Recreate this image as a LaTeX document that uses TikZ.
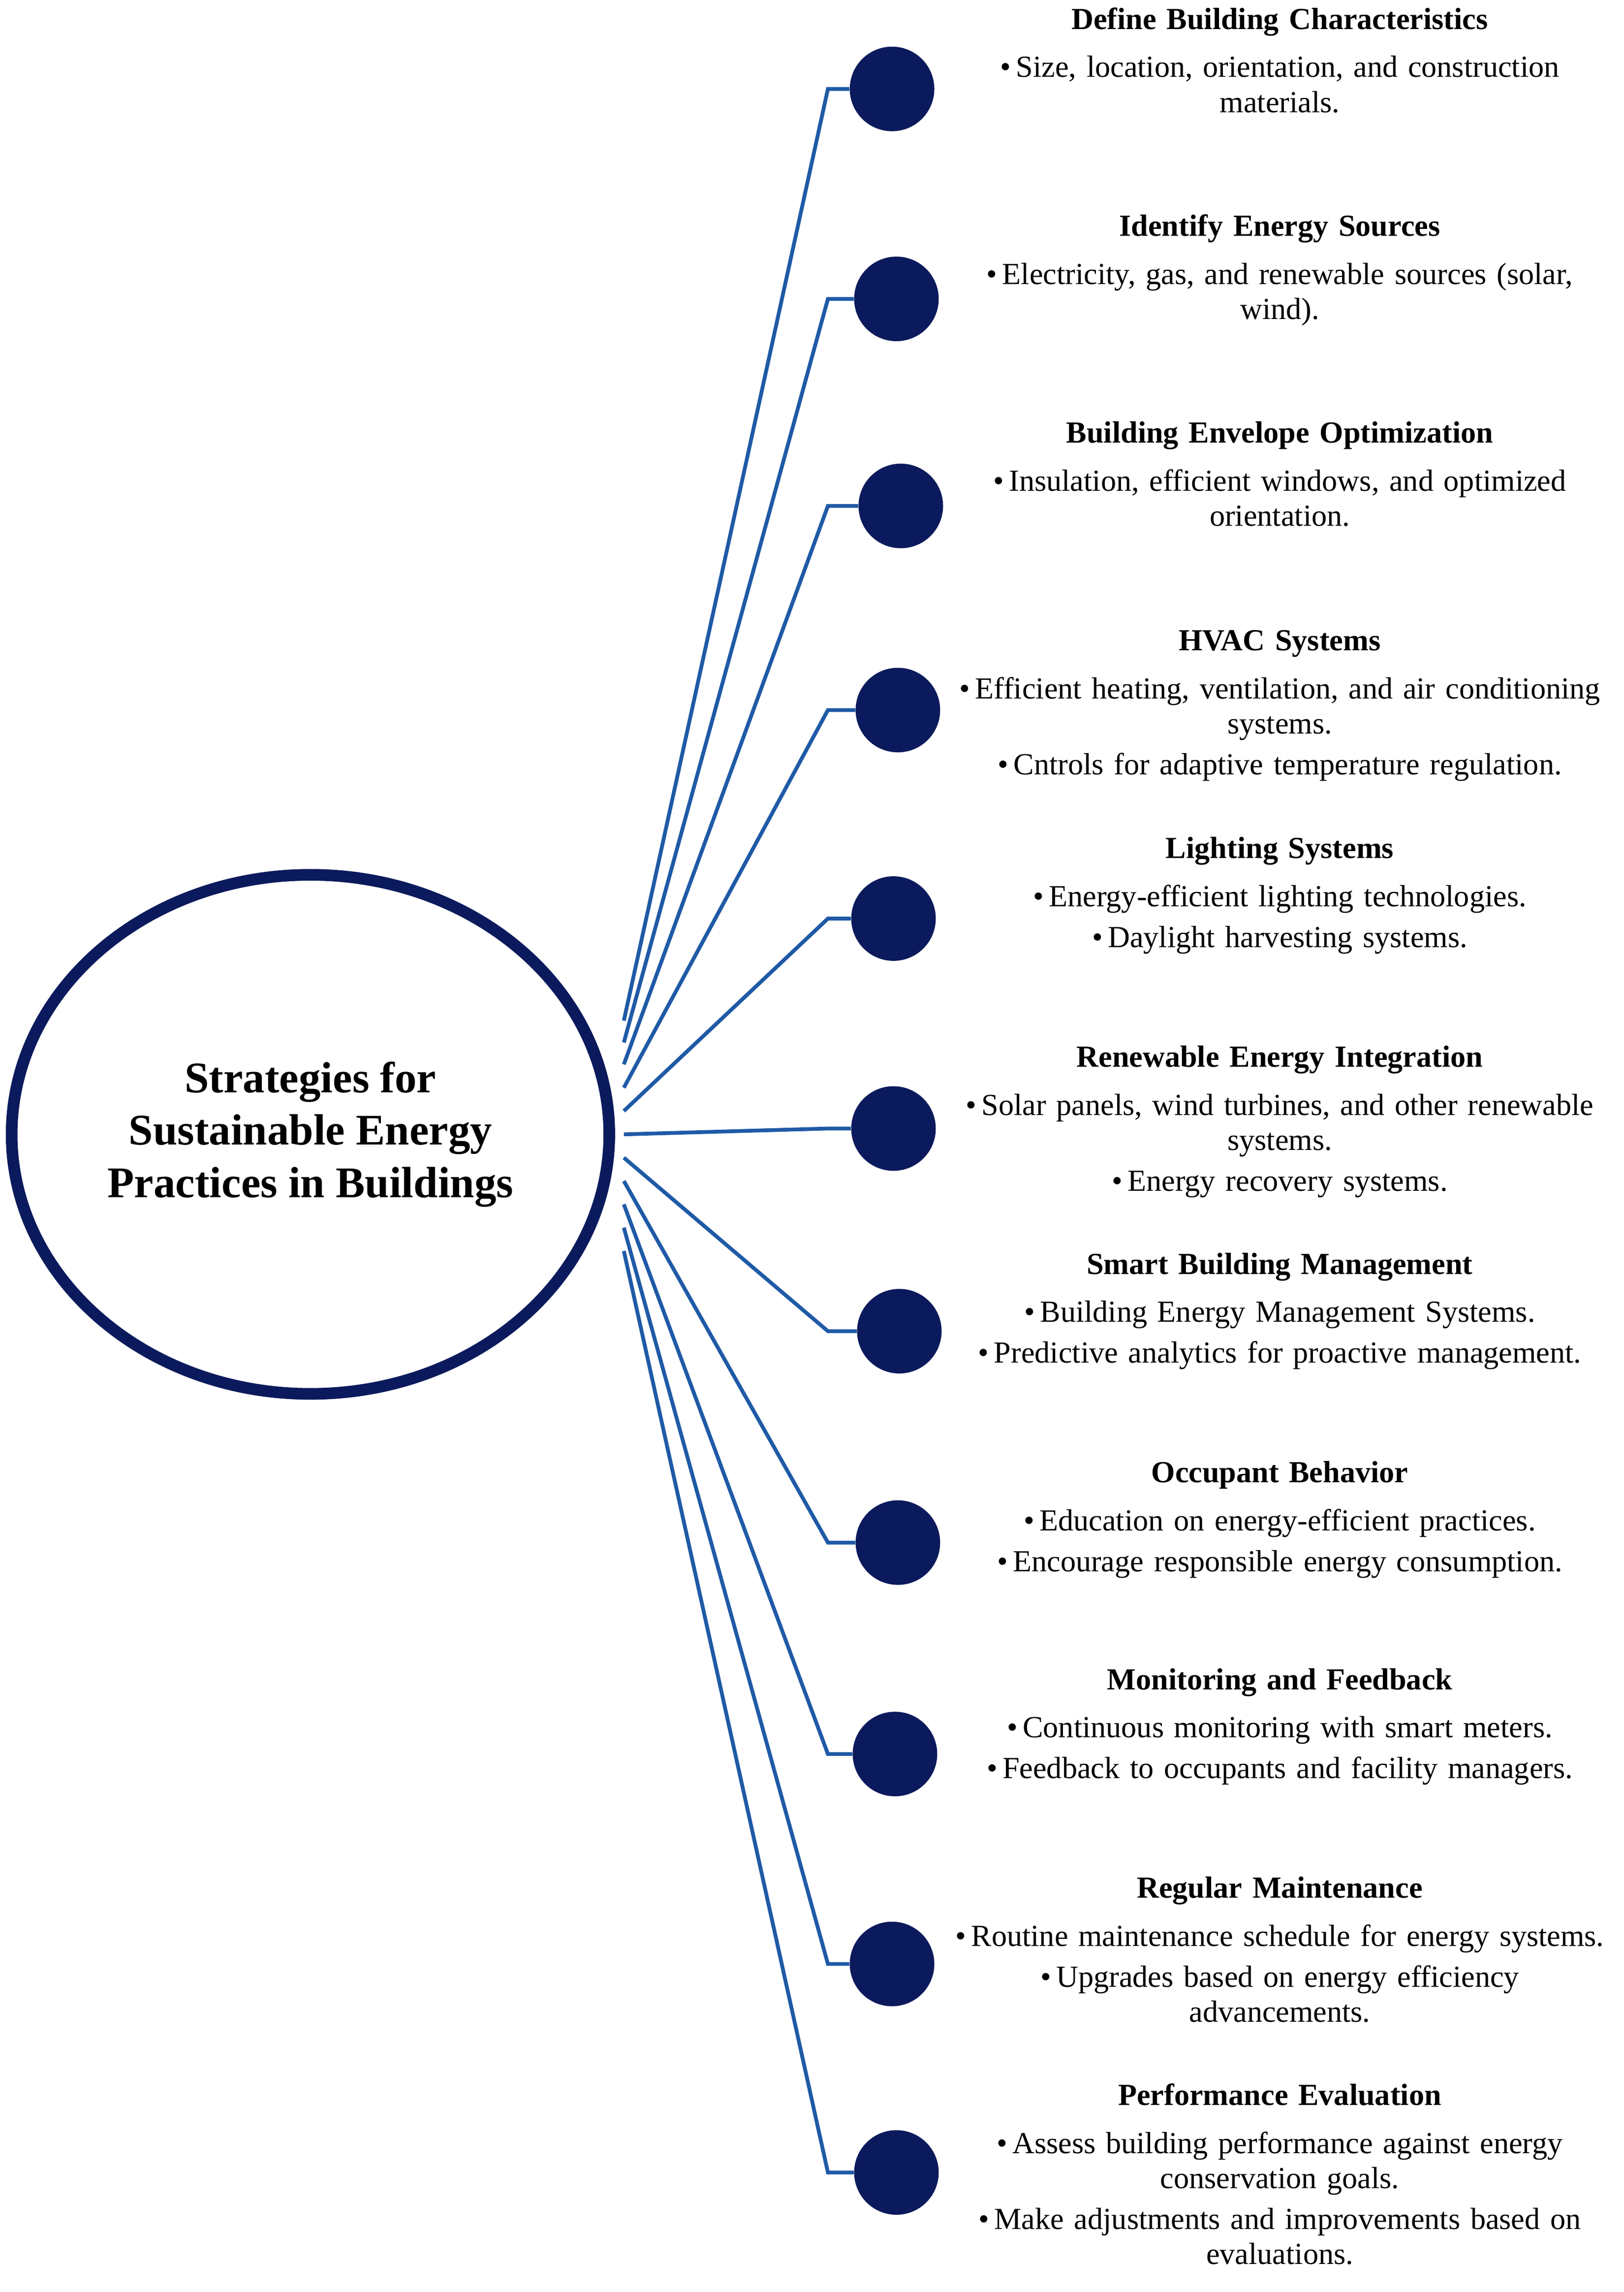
\documentclass[tikz,border=0pt]{standalone}
\usepackage{fontspec}
\setmainfont{Liberation Serif}
\usetikzlibrary{shapes.geometric}
\definecolor{navy}{HTML}{0B1A5C}
\definecolor{lineblue}{HTML}{1F5AA6}
\begin{document}
\begin{tikzpicture}[x=1pt,y=-1pt,
  dot/.style={circle,fill=navy,minimum size=58pt,inner sep=0pt},
  conn/.style={draw=lineblue,line width=2.6pt},
  txt/.style={anchor=north,text width=480pt,align=center,font=\fontsize{21}{24}\selectfont,inner sep=0pt}]
\useasboundingbox (0,0) rectangle (1114,1572);
\node[ellipse,draw=navy,line width=8pt,minimum width=410pt,minimum height=356pt,inner sep=0pt,align=center,font=\fontsize{30}{36}\selectfont\bfseries] (hub) at (213,778) {Strategies for\\Sustainable Energy\\Practices in Buildings};
\foreach \i/\cy/\sy/\cx in {1/61/700/612,2/205/715/615,3/347/730/618,4/487/746/616,5/630/762/613,6/774/778/613,7/913/794/617,8/1058/810/616,9/1203/826/614,10/1347/842/612,11/1490/858/615}{
  \node[dot] (c\i) at (\cx,\cy) {};
  \coordinate (s\i) at (428,\sy);
  \coordinate (k\i) at (568,\cy);
  \draw[conn] (s\i) -- (k\i) -- (c\i);
}
\node[txt] (t1) at (878,5) {\textbf{Define Building Characteristics}\\[9pt]\textbullet\,Size, location, orientation, and construction\\materials.};
\node[txt] (t2) at (878,147) {\textbf{Identify Energy Sources}\\[9pt]\textbullet\,Electricity, gas, and renewable sources (solar,\\wind).};
\node[txt] (t3) at (878,289) {\textbf{Building Envelope Optimization}\\[9pt]\textbullet\,Insulation, efficient windows, and optimized\\orientation.};
\node[txt] (t4) at (878,432) {\textbf{HVAC Systems}\\[9pt]\textbullet\,Efficient heating, ventilation, and air conditioning\\systems.\\[4pt]\textbullet\,Cntrols for adaptive temperature regulation.};
\node[txt] (t5) at (878,574) {\textbf{Lighting Systems}\\[9pt]\textbullet\,Energy-efficient lighting technologies.\\[4pt]\textbullet\,Daylight harvesting systems.};
\node[txt] (t6) at (878,717) {\textbf{Renewable Energy Integration}\\[9pt]\textbullet\,Solar panels, wind turbines, and other renewable\\systems.\\[4pt]\textbullet\,Energy recovery systems.};
\node[txt] (t7) at (878,859) {\textbf{Smart Building Management}\\[9pt]\textbullet\,Building Energy Management Systems.\\[4pt]\textbullet\,Predictive analytics for proactive management.};
\node[txt] (t8) at (878,1002) {\textbf{Occupant Behavior}\\[9pt]\textbullet\,Education on energy-efficient practices.\\[4pt]\textbullet\,Encourage responsible energy consumption.};
\node[txt] (t9) at (878,1144) {\textbf{Monitoring and Feedback}\\[9pt]\textbullet\,Continuous monitoring with smart meters.\\[4pt]\textbullet\,Feedback to occupants and facility managers.};
\node[txt] (t10) at (878,1287) {\textbf{Regular Maintenance}\\[9pt]\textbullet\,Routine maintenance schedule for energy systems.\\[4pt]\textbullet\,Upgrades based on energy efficiency\\advancements.};
\node[txt] (t11) at (878,1429) {\textbf{Performance Evaluation}\\[9pt]\textbullet\,Assess building performance against energy\\conservation goals.\\[4pt]\textbullet\,Make adjustments and improvements based on\\evaluations.};
\end{tikzpicture}
\end{document}
